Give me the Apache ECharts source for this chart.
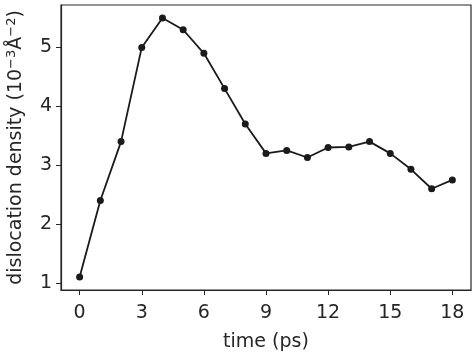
<!DOCTYPE html>
<html>
<head>
<meta charset="utf-8">
<script src="https://cdn.jsdelivr.net/npm/echarts@6/dist/echarts.min.js"></script>
<style>
  html, body { margin: 0; padding: 0; background: #fff; }
  #chart { width: 474px; height: 353px; }
</style>
</head>
<body>
<div id="chart"></div>
<script>
// time in ps
var times = [0, 1, 2, 3, 4, 5, 6, 7, 8, 9, 10, 11, 12, 13, 14, 15, 16, 17, 18];
// dislocation density, 10^-3 A^-2
var density = [1.1, 2.4, 3.4, 5.0, 5.5, 5.3, 4.9, 4.3, 3.7, 3.2, 3.25, 3.13, 3.3, 3.31, 3.4, 3.2, 2.93, 2.6, 2.75];
var xTicks = [0, 3, 6, 9, 12, 15, 18];
var yTicks = [1, 2, 3, 4, 5];

var points = [];
for (var i = 0; i < times.length; i++) {
    points.push([times[i], density[i]]);
}

var font = 'DejaVu Sans';
var ink = '#262626';

var chart = echarts.init(document.getElementById('chart'));
chart.setOption({
    animation: false,
    grid: {
        left: 61, right: 3, top: 5, bottom: 63,
        outerBoundsMode: 'none',
        containLabel: false,
        show: true,
        borderColor: ink,
        borderWidth: 1.2
    },
    xAxis: {
        type: 'value',
        min: -0.9,
        max: 18.9,
        name: 'time (ps)',
        nameLocation: 'middle',
        nameGap: 43,
        nameTextStyle: { fontFamily: font, fontSize: 19, color: ink },
        splitLine: { show: false },
        axisLine: { show: true, onZero: false, lineStyle: { color: ink, width: 1.2 } },
        axisTick: { show: true, customValues: xTicks, length: 5, lineStyle: { color: ink } },
        axisLabel: { customValues: xTicks, fontFamily: font, fontSize: 19, color: ink, margin: 14 }
    },
    yAxis: {
        type: 'value',
        min: 0.88,
        max: 5.72,
        name: 'dislocation density (10{sup|\u22123}\u00C5{sup|\u22122})',
        nameLocation: 'middle',
        nameGap: 34,
        nameTextStyle: {
            fontFamily: font, fontSize: 19, color: ink,
            rich: {
                sup: { fontFamily: font, fontSize: 13, color: ink, verticalAlign: 'bottom', padding: [0, 0, 9, 0] }
            }
        },
        splitLine: { show: false },
        axisLine: { show: true, onZero: false, lineStyle: { color: ink, width: 1.2 } },
        axisTick: { show: true, customValues: yTicks, length: 5, lineStyle: { color: ink } },
        axisLabel: { customValues: yTicks, fontFamily: font, fontSize: 19, color: ink, margin: 9 }
    },
    series: [{
        type: 'line',
        data: points,
        symbol: 'circle',
        symbolSize: 7,
        lineStyle: { color: '#1a1a1a', width: 1.8 },
        itemStyle: { color: '#1a1a1a' }
    }]
});
</script>
</body>
</html>
